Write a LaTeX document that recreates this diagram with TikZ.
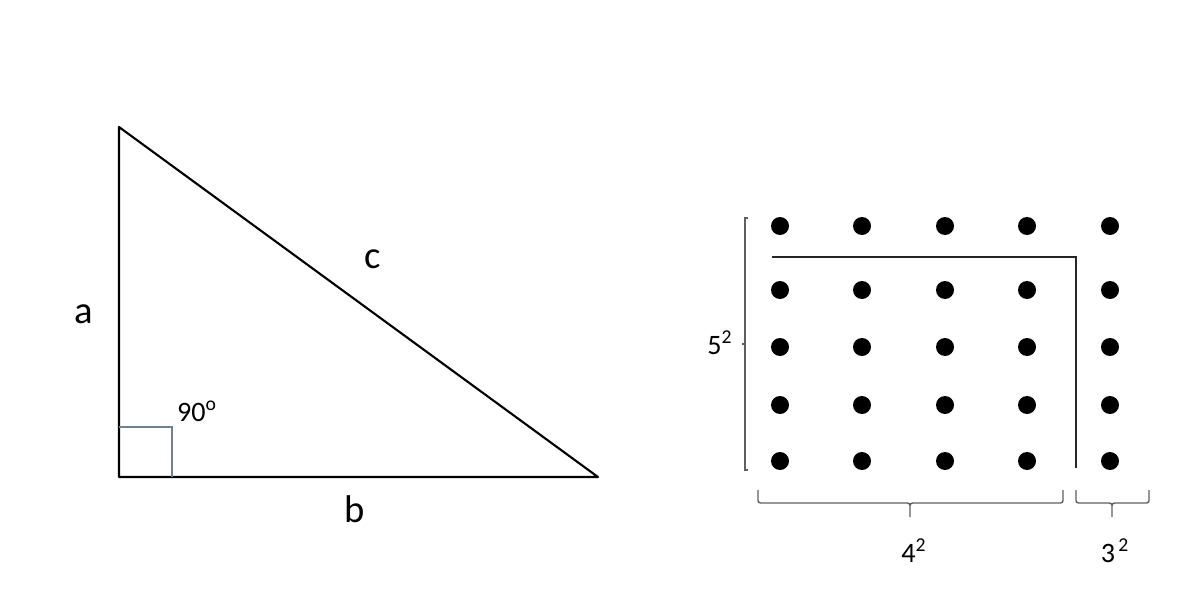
\documentclass[tikz,border=0pt]{standalone}
\usepackage{fontspec}
\setmainfont{Carlito}
\definecolor{sqgray}{RGB}{112,128,144}
\definecolor{brgray}{RGB}{95,95,95}
\begin{document}
\begin{tikzpicture}[x=0.02cm, y=-0.02cm,
  side/.style={font=\fontsize{22}{26}\selectfont},
  small/.style={font=\fontsize{16}{19}\selectfont},
  dot/.style={shape=circle,fill=black,inner sep=0pt,minimum size=0.36cm},
  bracket/.style={draw=brgray,line width=0.8pt,rounded corners=0.05cm}]
  \useasboundingbox (0,0) rectangle (1200,612);
  % triangle
  \coordinate (A) at (119,127);
  \coordinate (C) at (119,477);
  \coordinate (B) at (598,477);
  \draw[line width=1.2pt, line join=round] (A) -- (C) -- (B) -- cycle;
  \coordinate (ra1) at (119,427);
  \coordinate (ra2) at (172,477);
  \draw[sqgray, line width=0.6pt] (ra1) -| (ra2);
  \node[side] (lbla) at (84,314) {a};
  \node[side] (lblc) at (373,259) {c};
  \node[side] (lblb) at (355,509) {b};
  \node[small] (lblang) at (197,411) {90\textsuperscript{o}};
  % dots
  \foreach \x [count=\i] in {780,862,945,1027,1110}
    \foreach \y [count=\j] in {226,290,347,405,461}
      \node[dot] (d\i\j) at (\x,\y) {};
  \coordinate (L1) at (772,257);
  \coordinate (L2) at (1076,257);
  \coordinate (L3) at (1076,468);
  \draw[black!85, line width=0.8pt] (L1) -- (L2) -- (L3);
  % braces
  \coordinate (br1) at (748,470);
  \coordinate (br2) at (748,218);
  \coordinate (tip5) at (742,344);
  \coordinate (br3) at (758,490);
  \coordinate (br4) at (1063,490);
  \coordinate (tip4) at (910,517);
  \coordinate (br5) at (1076,490);
  \coordinate (br6) at (1149,490);
  \coordinate (tip3) at (1112,517);
  \draw[bracket, rounded corners=0pt] (br2) -- ++(-3,0) |- (br1) (tip5) -- ++(3,0);
  \draw[bracket] (br3) -- ++(0,13) -| (tip4) (br4) -- ++(0,13) -| (tip4);
  \draw[bracket] (br5) -- ++(0,13) -| (tip3) (br6) -- ++(0,13) -| (tip3);
  \node[small] (lbl5) at (720,343) {5\textsuperscript{2}};
  \node[small] (lbl4) at (914,551) {4\textsuperscript{2}};
  \node[small] (lbl3) at (1115,551) {3\textsuperscript{\,2}};
\end{tikzpicture}
\end{document}
